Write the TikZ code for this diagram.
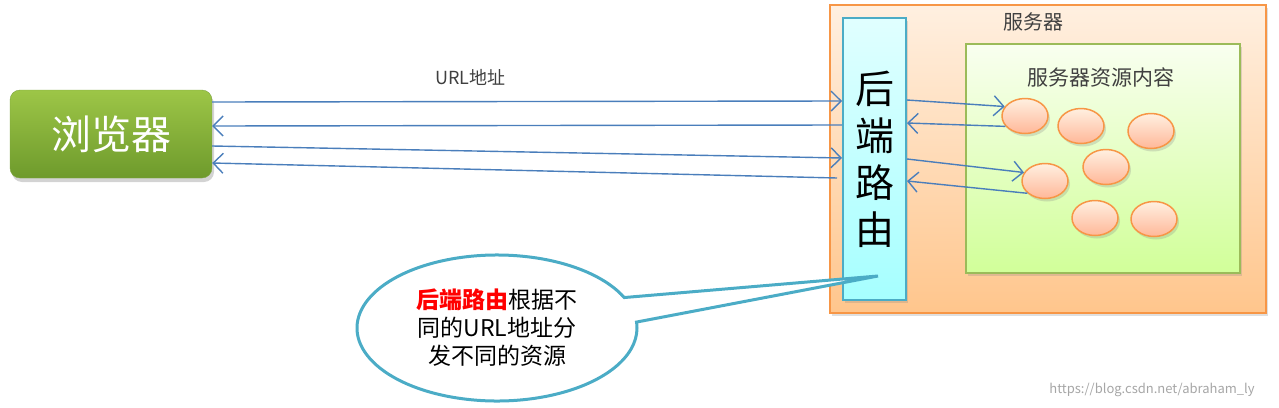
\documentclass[tikz,border=0pt]{standalone}
\usepackage{fontspec}
\setmainfont{Noto Sans CJK SC}
\usetikzlibrary{arrows.meta,shapes.geometric,shapes.callouts,shadows,positioning}

\definecolor{linkblue}{HTML}{4A7EBB}
\definecolor{srvorange}{HTML}{F79646}
\definecolor{routerblue}{HTML}{4BACC6}
\definecolor{resgreen}{HTML}{9BBB59}
\definecolor{labelgray}{HTML}{404040}
\definecolor{browsertop}{HTML}{9DC647}
\definecolor{browserbottom}{HTML}{6E9A2C}

\begin{document}
\begin{tikzpicture}[x=1pt,y=-1pt,
  >={Straight Barb[length=10pt,width=20pt]},
  link/.style={->,draw=linkblue,line width=1.4pt},
  soft/.style={drop shadow={opacity=0.25,shadow xshift=2pt,shadow yshift=-3pt}},
  res/.style={ellipse,draw=srvorange,line width=1.5pt,top color=orange!12,bottom color=orange!60!red!40!white,
    minimum width=46pt,minimum height=35pt,inner sep=0pt,soft}]
  \useasboundingbox (0,0) rectangle (1279,407);

  % server side
  \node[draw=srvorange,line width=2pt,top color=orange!12,bottom color=orange!45,
    minimum width=436pt,minimum height=308pt,soft] (server) at (1048,159) {};
  \node[text=labelgray,font=\fontsize{20}{22}\selectfont] (serverlabel) at (1033,22) {服务器};
  \node[draw=resgreen,line width=2pt,top color=green!40!yellow!6,bottom color=green!45!yellow!40,
    minimum width=274pt,minimum height=229pt,soft] (resources) at (1103,158.5) {};
  \node[text=labelgray,font=\fontsize{21}{22}\selectfont] (reslabel) at (1101,77) {服务器资源内容};
  \foreach \n/\x/\y in {1/1025/116,2/1081/126,3/1151/131,4/1106/167,5/1045/181,6/1095/218,7/1154/219}
    \node[res] (res\n) at (\x,\y) {};
  \node[draw=routerblue,line width=2pt,top color=cyan!12,bottom color=cyan!35,
    minimum width=63pt,minimum height=282pt,inner sep=0pt,align=center,
    font=\fontsize{39}{47}\selectfont,soft] (router) at (874.5,159) {后\\端\\路\\由};

  % browser
  \node[rounded corners=10pt,draw=browserbottom!90,top color=browsertop,bottom color=browserbottom,
    minimum width=202pt,minimum height=88pt,text=white,font=\fontsize{40}{42}\selectfont,
    drop shadow={opacity=0.35,shadow xshift=2pt,shadow yshift=-4pt}] (browser) at (111,134) {浏览器};

  % requests and responses
  \draw[link] ([yshift=32pt]browser.east) -- ([yshift=58pt]router.west)
    node[pos=0.41,above=15pt,inner sep=0pt,text=labelgray,font=\fontsize{18}{20}\selectfont] (urllabel) {URL地址};
  \draw[link] ([yshift=34pt]router.west) -- ([yshift=8pt]browser.east);
  \draw[link] ([yshift=-12pt]browser.east) -- ([yshift=1pt]router.west);
  \draw[link] ([xshift=-5pt,yshift=-19pt]router.west) -- ([yshift=-29pt]browser.east);
  \draw[link] ([yshift=59pt]router.east) -- (res1.155);
  \draw[link] (res1.208) -- ([yshift=36pt]router.east);
  \draw[link] ([yshift=0pt]router.east) -- (res5.158);
  \draw[link] (res5.215) -- ([yshift=-22pt]router.east);

  % callout
  \coordinate (tip) at (878,276);
  \node[ellipse callout,callout absolute pointer={(tip)},callout pointer arc=20,
    draw=routerblue,line width=3pt,fill=white,minimum width=280pt,minimum height=146pt,
    align=center,font=\fontsize{23}{28}\selectfont] (bubble) at (497,328)
    {\textcolor{red}{\textbf{后端路由}}根据不\\同的URL地址分\\发不同的资源};

  \node[text=black!35,font=\fontsize{13}{15}\selectfont] (mark) at (1152,390) {https://blog.csdn.net/abraham\_ly};
\end{tikzpicture}
\end{document}
